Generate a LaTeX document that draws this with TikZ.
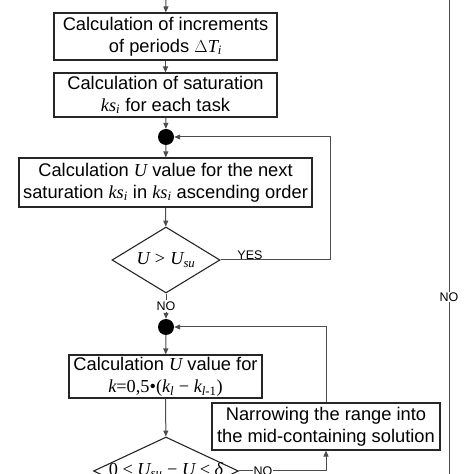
\documentclass[tikz,border=0pt]{standalone}
\usepackage{fontspec}
\setmainfont{Liberation Sans}
\newfontfamily\serifmath{Liberation Serif}
\usetikzlibrary{shapes,arrows,positioning,calc,arrows.meta}

\newcommand{\varit}[1]{{\serifmath\itshape #1}}
\newcommand{\subit}[1]{\textsubscript{\serifmath\itshape #1}}

\begin{document}
\begin{tikzpicture}[x=1pt,y=1pt,
    procbox/.style={draw=black!85, line width=1.1pt, fill=white, inner sep=0pt,
        align=center, font=\fontsize{18.3}{22}\selectfont},
    decision/.style={draw=black!85, line width=1.1pt, shape=diamond, inner sep=0pt},
    joint/.style={circle, fill=black, inner sep=0pt, minimum size=16pt},
    flow/.style={draw=black!70, line width=1pt, -{Triangle[length=6pt,width=5pt]}},
    plain/.style={draw=black!70, line width=1pt},
    answer/.style={font=\fontsize{12.5}{14}\selectfont, fill=white, inner sep=1pt}]
    \useasboundingbox (0,0) rectangle (474,474);
    \clip (0,0) rectangle (474,474);

    % Boxes
    \node[procbox, minimum width=223pt, minimum height=47pt] (incr) at (165.5,437.5)
        {Calculation of increments\\of periods {\serifmath$\Delta$}\varit{T}\subit{i}};
    \node[procbox, minimum width=223pt, minimum height=44pt] (satur) at (165.5,379)
        {Calculation of saturation\\\varit{ks}\subit{i} for each task};
    \node[joint] (join1) at (166,337) {};
    \node[procbox, minimum width=293pt, minimum height=49pt] (nextU) at (165.5,291.5)
        {Calculation \varit{U} value for the next\\saturation \varit{ks}\subit{i} in \varit{ks}\subit{i} ascending order};
    \node[decision, minimum width=108pt, minimum height=66pt] (test1) at (166,214) {};
    \node[font=\fontsize{18.3}{22}\selectfont] (test1txt) at (166,214)
        {\varit{U} {\serifmath >} \varit{U}\subit{su}};
    \node[answer] (no1) at (166,168) {NO};
    \node[joint] (join2) at (166,147) {};
    \node[procbox, minimum width=193pt, minimum height=43pt] (midU) at (165.5,97.5)
        {Calculation \varit{U} value for\\{\serifmath\varit{k}=0,5•(\varit{k}\subit{l} − \varit{k}\textsubscript{\serifmath\itshape l\upshape-1})}};
    \node[decision, minimum width=145pt, minimum height=68pt] (test2) at (166,3) {};
    \node[font=\fontsize{18.3}{22}\selectfont] (test2txt) at (166,4)
        {\serifmath 0 < \varit{U}\subit{su} − \varit{U} < \varit{δ}};
    \node[procbox, minimum width=228pt, minimum height=47pt] (narrow) at (326,47.5)
        {Narrowing the range into\\the mid-containing solution};

    % Free ends
    \coordinate (entry) at (166,474);
    \coordinate (rtop) at (449,474);
    \coordinate (rbot) at (449,0);

    % Connections
    \draw[flow] (entry) -- (incr);
    \draw[flow] (incr) -- (satur);
    \draw[flow] (satur) -- (join1);
    \draw[flow] (join1) -- (nextU);
    \draw[flow] (nextU) -- (test1);
    \draw[plain] (test1) -- (no1);
    \draw[flow] (no1) -- (join2);
    \draw[flow] (join2) -- (midU);
    \draw[flow] (midU) -- (test2);
    \draw[flow] (test1.east) -- ++(110,0) |- (join1.east);
    \node[answer, fill=none, anchor=south, inner sep=0pt] (yes1) at (250,214.5) {YES};
    \draw[flow] (test2.east) -| (narrow.south);
    \node[answer] (no2) at (263,3) {NO};
    \draw[flow] (narrow.north) |- (join2.east);
    \draw[plain] (rtop) -- (rbot);
    \node[answer] (no3) at (449,177) {NO};
\end{tikzpicture}
\end{document}
